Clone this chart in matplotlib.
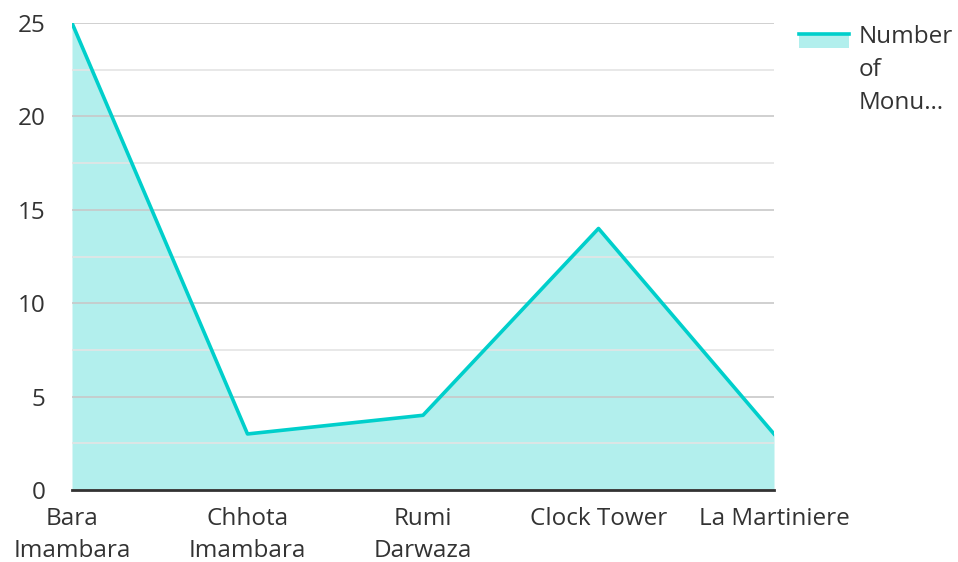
import matplotlib
matplotlib.use("Agg")
import matplotlib.pyplot as plt
from matplotlib.patches import Rectangle
from matplotlib.lines import Line2D

categories = ["Bara\nImambara", "Chhota\nImambara", "Rumi\nDarwaza", "Clock Tower", "La Martiniere"]
values = [25, 3, 4, 14, 3]
series_name = "Number\nof\nMonu…"
y_ticks = [0, 5, 10, 15, 20, 25]
y_minor = [2.5, 7.5, 12.5, 17.5, 22.5]

plt.rcParams['font.family'] = ['Open Sans', 'DejaVu Sans']

line_color = "#00CFCB"
fill_color = "#B2EFED"
text_color = "#333333"
FS = 17.5

W, H = 958, 562
fig = plt.figure(figsize=(W/100, H/100), dpi=100)
ax = fig.add_axes([72/W, 1-490/H, (774-72)/W, (490-23)/H])

x = list(range(len(categories)))
ax.fill_between(x, values, 0, color=fill_color, linewidth=0, zorder=1)
ax.plot(x, values, color=line_color, linewidth=2.6, zorder=3)

ax.set_xlim(0, len(categories) - 1)
ax.set_ylim(0, 25)
ax.set_yticks(y_ticks)
ax.set_yticks(y_minor, minor=True)
ax.set_xticks(x)
ax.set_xticklabels(categories, fontsize=FS, color=text_color, linespacing=1.45)
ax.tick_params(axis='y', labelsize=FS, colors=text_color, length=0, pad=19, which='both')
ax.tick_params(axis='x', length=0, pad=12)

ax.grid(True, axis='y', which='major', color='#c8c8c8', linewidth=1.2, zorder=2)
ax.grid(True, axis='y', which='minor', color='#e4e4e4', linewidth=1.2, zorder=2)
ax.set_axisbelow(False)
for s in ['top', 'right', 'left']:
    ax.spines[s].set_visible(False)
ax.spines['bottom'].set_color('#333333')
ax.spines['bottom'].set_linewidth(2)
ax.spines['bottom'].set_zorder(4)

# legend (drawn manually in figure pixel coordinates)
def fx(px):
    return px / W
def fy(py):
    return 1 - py / H

fig.add_artist(Rectangle((fx(799), fy(48)), fx(849) - fx(799), fy(34) - fy(48),
                         transform=fig.transFigure, facecolor=fill_color, edgecolor='none'))
fig.add_artist(Line2D([fx(799), fx(849)], [fy(34), fy(34)], transform=fig.transFigure,
                      color=line_color, linewidth=2.6))
fig.text(fx(859), fy(25), series_name, fontsize=FS, color=text_color,
         ha='left', va='top', linespacing=1.5)

fig.savefig("out.png", dpi=100)
